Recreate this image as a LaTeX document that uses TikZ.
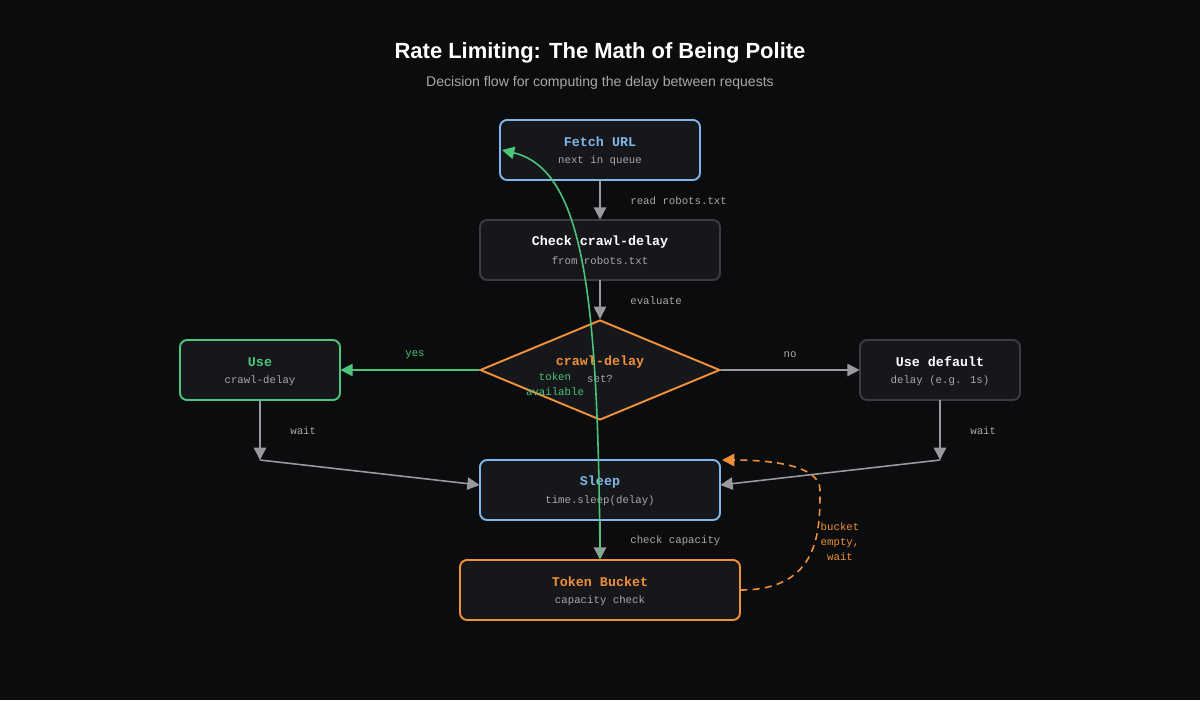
\documentclass[tikz,border=0pt]{standalone}
\usepackage{fontspec}
\setmainfont{Liberation Sans}
\newfontfamily\mono{Liberation Mono}
\usetikzlibrary{shapes.geometric,arrows.meta}
\definecolor{bg}{HTML}{0B0C0E}
\definecolor{boxf}{HTML}{15171B}
\definecolor{cblue}{HTML}{7FB8E8}
\definecolor{corange}{HTML}{F0913A}
\definecolor{cgreen}{HTML}{4CC47A}
\definecolor{cgray}{HTML}{3A3C40}
\definecolor{ctxt}{HTML}{A8A8A8}
\definecolor{carrow}{HTML}{9A9A9E}
\begin{document}
\begin{tikzpicture}[x=0.02cm,y=-0.02cm,
  box/.style={draw,fill=boxf,rounded corners=4pt,line width=1.1pt},
  ttl/.style={font=\mono\fontsize{7.6}{9}\selectfont\bfseries},
  sub/.style={font=\mono\fontsize{6.1}{7}\selectfont,text=ctxt},
  lbl/.style={font=\mono\fontsize{6.1}{7.5}\selectfont,text=ctxt,anchor=west,inner sep=0pt},
  arr/.style={draw=carrow,line width=0.9pt,-{Triangle[length=7pt,width=7pt]}}]
\fill[bg] (0,0) rectangle (1200,700);
\node[text=white,font=\fontsize{12.5}{14}\selectfont\bfseries] (title) at (600,53) {Rate Limiting: The Math of Being Polite};
\node[text=ctxt,font=\fontsize{8}{10}\selectfont] (subt) at (600,83) {Decision flow for computing the delay between requests};

\path[box,draw=cblue] (500,120) rectangle (700,180);
\node (fetch) at (600,150) [minimum width=200*0.02cm,minimum height=60*0.02cm] {};
\node[ttl,text=cblue] at (600,142) {Fetch URL};
\node[sub] at (600,161) {next in queue};

\path[box,draw=cgray] (480,220) rectangle (720,280);
\node (check) at (600,250) [minimum width=240*0.02cm,minimum height=60*0.02cm] {};
\node[ttl,text=white] at (600,242) {Check crawl-delay};
\node[sub] at (600,261) {from robots.txt};

\node[diamond,draw=corange,fill=boxf,line width=1.1pt,aspect=2.4,minimum width=240*0.02cm,minimum height=100*0.02cm,inner sep=0pt] (dia) at (600,370) {};
\node[ttl,text=corange] at (600,362) {crawl-delay};
\node[sub] at (600,379) {set?};

\path[box,draw=cgreen] (180,340) rectangle (340,400);
\node (use) at (260,370) [minimum width=160*0.02cm,minimum height=60*0.02cm] {};
\node[ttl,text=cgreen] at (260,362) {Use};
\node[sub] at (260,381) {crawl-delay};

\path[box,draw=cgray] (860,340) rectangle (1020,400);
\node (def) at (940,370) [minimum width=160*0.02cm,minimum height=60*0.02cm] {};
\node[ttl,text=white] at (940,362) {Use default};
\node[sub] at (940,381) {delay (e.g. 1s)};

\path[box,draw=cblue] (480,460) rectangle (720,520);
\node (sleep) at (600,490) [minimum width=240*0.02cm,minimum height=60*0.02cm] {};
\node[ttl,text=cblue] at (600,482) {Sleep};
\node[sub] at (600,501) {time.sleep(delay)};

\path[box,draw=corange] (460,560) rectangle (740,620);
\node (bucket) at (600,590) [minimum width=280*0.02cm,minimum height=60*0.02cm] {};
\node[ttl,text=corange] at (600,582) {Token Bucket};
\node[sub] at (600,601) {capacity check};

\coordinate (wl) at (260,460);
\coordinate (wr) at (940,460);

\draw[arr] (fetch.south) -- (check.north);
\node[lbl] at (630,201) {read robots.txt};
\draw[arr] (check.south) -- (dia.north);
\node[lbl] at (630,301) {evaluate};
\draw[arr,draw=cgreen,fill=cgreen] (dia.west) -- (use.east);
\node[lbl,text=cgreen,anchor=center] at (415,355) {yes};
\draw[arr,fill=carrow] (dia.east) -- (def.west);
\node[lbl,anchor=center] at (790,355) {no};
\draw[arr,fill=carrow] (use.south) -- (wl);
\node[lbl] at (290,431) {wait};
\draw[arr,fill=carrow] (def.south) -- (wr);
\node[lbl] at (970,431) {wait};
\draw[arr,fill=carrow] (wl) -- ([yshift=0.1cm]sleep.west);
\draw[arr,fill=carrow] (wr) -- ([yshift=0.1cm]sleep.east);
\draw[arr,fill=carrow] (sleep.south) -- (bucket.north);
\node[lbl] at (630,541) {check capacity};
\draw[draw=corange,line width=0.9pt,dash pattern=on 4pt off 3pt,-{Triangle[length=7pt,width=7pt,fill=corange,sep=0pt]}]
  (bucket.east) .. controls (820,590) and (820,530) .. (820,490) .. controls (820,465) and (770,460) .. (722,460);
\node[font=\mono\fontsize{6.1}{8.5}\selectfont,text=corange,align=center] at (840,542) {bucket\\empty,\\wait};
\draw[draw=cgreen,line width=0.9pt,-{Triangle[length=7pt,width=7pt]}]
  (600,558) .. controls (598,300) and (585,170) .. (502,150);
\node[font=\mono\fontsize{6.1}{8.5}\selectfont,text=cgreen,align=center] at (555,384) {token\\available};
\end{tikzpicture}
\end{document}
